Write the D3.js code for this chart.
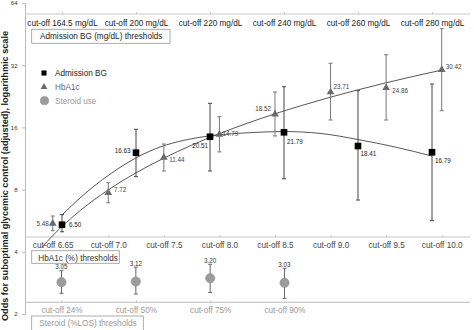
<!DOCTYPE html>
<html><head><meta charset="utf-8">
<script src="https://cdn.jsdelivr.net/npm/d3@7"></script>
<style>
html,body{margin:0;padding:0;background:#fff;}
svg{display:block;font-family:"Liberation Sans",Arial,Helvetica,sans-serif;}
</style></head><body>
<svg id="c" width="474" height="330"></svg>
<script>
// ---------------- data ----------------
const yTicks = [2, 4, 8, 16, 32, 64];

const bgCategories = ["cut-off 164.5 mg/dL","cut-off 200 mg/dL","cut-off 220 mg/dL","cut-off 240 mg/dL","cut-off 260 mg/dL","cut-off 280 mg/dL"];
const bgOddsLabels = ["6.50","16.63","20.51","21.79","18.41","16.79"];
const bgPlotted = [5.41, 12.07, 14.42, 15.15, 13.0, 12.13];
const bgLow  = [5.0, 9.24, 9.84, 9.03, 7.12, 5.66];
const bgHigh = [6.05, 15.66, 20.92, 25.18, 24.08, 25.96];
const bgTrend = [[0,6.03],[0.216,7.14],[0.419,8.24],[0.676,9.65],[1,11.39],[1.324,12.85],[1.662,13.89],[2,14.57],[2.5,15.06],[3,15.28],[3.5,14.95],[4,13.98],[4.5,12.86],[5,11.63]];

const hbCategories = ["cut-off 6.65","cut-off 7.0","cut-off 7.5","cut-off 8.0","cut-off 8.5","cut-off 9.0","cut-off 9.5","cut-off 10.0"];
const hbOdds = [5.48, 7.72, 11.44, 14.79, 18.52, 23.71, 24.86, 30.42];
const hbLow  = [5.06, 6.91, 9.84, 12.17, 14.54, 17.37, 17.37, 19.27];
const hbHigh = [5.96, 8.64, 13.30, 18.03, 23.74, 32.7, 35.97, 48.07];
const hbTrend = [[-0.2,4.19],[0,4.79],[0.5,6.35],[1,7.97],[1.5,9.65],[2,11.36],[2.5,13.12],[3,14.92],[3.5,16.75],[4,18.62],[4.5,20.49],[5,22.42],[5.5,24.35],[6,26.30],[6.5,28.30],[7,30.29]];

const stCategories = ["cut-off 24%","cut-off 50%","cut-off 75%","cut-off 90%"];
const stOddsLabels = ["3.05","3.12","3.20","3.03"];
const stPlotted = [2.85, 2.87, 2.98, 2.83];
const stLow  = [2.52, 2.50, 2.54, 2.38];
const stHigh = [3.24, 3.37, 3.48, 3.33];

const legendItems = ["Admission BG", "HbA1c", "Steroid use"];

// ---------------- layout ----------------
const svg = d3.select("#c");
const y = d3.scaleLog().base(2).domain([2, 64]).range([314, 3]);
const xBG = d3.scaleLinear().domain([0, 5]).range([62, 432]);
const xHb = d3.scaleLinear().domain([0, 7]).range([52.7, 441.7]);
const xSt = d3.scaleLinear().domain([0, 3]).range([61.5, 284.5]);

const FS = 8.2, VS = 6.3;
const bandLine = "#c8c8c8";

// left axis
const yAxis = d3.axisLeft(y).tickValues(yTicks).tickFormat(d3.format("d")).tickSize(3).tickPadding(4.5);
const ga = svg.append("g").attr("transform", "translate(25,0)").call(yAxis);
ga.select(".domain").attr("stroke", "#bbb");
ga.selectAll(".tick line").attr("stroke", "#bbb");
ga.selectAll(".tick text").attr("font-size", 6).attr("fill", "#333").attr("font-family", null);

svg.append("text")
  .attr("transform", "translate(5.5,176) rotate(-90)")
  .attr("text-anchor", "middle").attr("dy", "0.35em")
  .attr("font-size", 8.2).attr("font-weight", "bold").attr("fill", "#222")
  .attr("textLength", 290).attr("lengthAdjust", "spacingAndGlyphs")
  .text("Odds for suboptimal glycemic control (adjusted), logarithmic scale");

// threshold bands (horizontal axes)
function band(scale, cats, yPos, pad, color) {
  svg.append("line").attr("x1", 25).attr("x2", 470).attr("y1", yPos).attr("y2", yPos)
    .attr("stroke", bandLine).attr("stroke-width", 1.2);
  const ax = d3.axisBottom(scale).tickValues(d3.range(cats.length)).tickFormat(i => cats[i])
    .tickSizeInner(-2).tickSizeOuter(0).tickPadding(pad);
  const g = svg.append("g").attr("transform", `translate(0,${yPos})`).call(ax);
  g.select(".domain").remove();
  g.selectAll(".tick line").attr("stroke", bandLine);
  g.selectAll(".tick text").attr("font-size", FS).attr("fill", color).attr("font-family", null);
}
band(xBG, bgCategories, 14, 6, "#222");
band(xHb, hbCategories, 237, 5, "#444");
band(xSt, stCategories, 302.3, 5, "#999");

// trend curves
const lineBG = d3.line().x(d => xBG(d[0])).y(d => y(d[1])).curve(d3.curveMonotoneX);
const lineHb = d3.line().x(d => xHb(d[0])).y(d => y(d[1])).curve(d3.curveMonotoneX);
svg.append("path").attr("d", lineHb(hbTrend)).attr("fill", "none").attr("stroke", "#444").attr("stroke-width", 0.9);
svg.append("path").attr("d", lineBG(bgTrend)).attr("fill", "none").attr("stroke", "#444").attr("stroke-width", 0.9);

// error bars
function errBars(xs, lows, highs, color) {
  lows.forEach((lo, i) => {
    const x = xs(i), y1 = y(lo), y2 = y(highs[i]);
    svg.append("line").attr("x1", x).attr("x2", x).attr("y1", y1).attr("y2", y2).attr("stroke", color).attr("stroke-width", 1);
    [y1, y2].forEach(yy => svg.append("line").attr("x1", x - 2).attr("x2", x + 2).attr("y1", yy).attr("y2", yy).attr("stroke", color).attr("stroke-width", 1));
  });
}
errBars(xHb, hbLow, hbHigh, "#777");
errBars(xBG, bgLow, bgHigh, "#444");
errBars(xSt, stLow, stHigh, "#666");

// markers
const tri = d3.symbol(d3.symbolTriangle, 26);
const sq = d3.symbol(d3.symbolSquare, 44);
svg.selectAll(".tri").data(hbOdds).join("path")
  .attr("d", tri).attr("transform", (d, i) => `translate(${xHb(i)},${y(d)})`).attr("fill", "#6a6a6a");
svg.selectAll(".sq").data(bgPlotted).join("path")
  .attr("d", sq).attr("transform", (d, i) => `translate(${xBG(i)},${y(d)})`).attr("fill", "#000");
svg.selectAll(".circ").data(stPlotted).join("circle")
  .attr("cx", (d, i) => xSt(i)).attr("cy", d => y(d)).attr("r", 4.6)
  .attr("fill", "#9c9c9c").attr("stroke", "#888").attr("stroke-width", 0.6);

// value labels
const hbLabelPlace = [[-4,0.7,"end"],[5.7,-3,"start"],[5.3,2,"start"],[3,-1,"start"],[-4,-5,"end"],[3,-5.5,"start"],[6,2.5,"start"],[4,-3,"start"]];
const bgLabelPlace = [[7,0,"start"],[-5.5,-1.5,"end"],[-2,9.3,"end"],[3,9.4,"start"],[2.5,8,"start"],[3,9,"start"]];
hbOdds.forEach((v, i) => {
  const p = hbLabelPlace[i];
  svg.append("text").attr("x", xHb(i) + p[0]).attr("y", y(v) + p[1]).attr("dy", "0.35em")
    .attr("text-anchor", p[2]).attr("font-size", VS).attr("fill", "#444").text(v.toFixed(2));
});
bgPlotted.forEach((v, i) => {
  const p = bgLabelPlace[i];
  svg.append("text").attr("x", xBG(i) + p[0]).attr("y", y(v) + p[1]).attr("dy", "0.35em")
    .attr("text-anchor", p[2]).attr("font-size", VS).attr("fill", "#222").text(bgOddsLabels[i]);
});
stHigh.forEach((v, i) => {
  svg.append("text").attr("x", xSt(i)).attr("y", y(v) - 3.5).attr("dy", "0.35em")
    .attr("text-anchor", "middle").attr("font-size", VS).attr("fill", "#333").text(stOddsLabels[i]);
});

// threshold boxes
function box(x, yy, w, h, label, color, tx) {
  svg.append("rect").attr("x", x).attr("y", yy).attr("width", w).attr("height", h)
    .attr("fill", "#fff").attr("stroke", "#999").attr("stroke-width", 0.8);
  svg.append("text").attr("x", tx).attr("y", yy + 7).attr("dy", "0.35em")
    .attr("font-size", FS).attr("fill", color).text(label);
}
box(31.7, 29.3, 138.3, 14, "Admission BG (mg/dL) thresholds", "#222", 40);
box(31.7, 250.7, 87.6, 12.6, "HbA1c (%) thresholds", "#333", 38.3);
box(31.7, 316, 111.6, 16, "Steroid (%LOS) thresholds", "#999", 39.3);

// legend
const lg = svg.append("g");
lg.append("path").attr("d", d3.symbol(d3.symbolSquare, 26)).attr("transform", "translate(44,73)").attr("fill", "#000");
lg.append("path").attr("d", d3.symbol(d3.symbolTriangle, 20)).attr("transform", "translate(44,87)").attr("fill", "#6a6a6a");
lg.append("circle").attr("cx", 44.5).attr("cy", 100.7).attr("r", 4.1).attr("fill", "#9c9c9c").attr("stroke", "#888").attr("stroke-width", 0.6);
const lgColors = ["#222", "#666", "#999"];
legendItems.forEach((t, i) => {
  lg.append("text").attr("x", 55).attr("y", 73.3 + i * 13.7).attr("dy", "0.35em")
    .attr("font-size", FS).attr("fill", lgColors[i]).text(t);
});
</script>
</body></html>
